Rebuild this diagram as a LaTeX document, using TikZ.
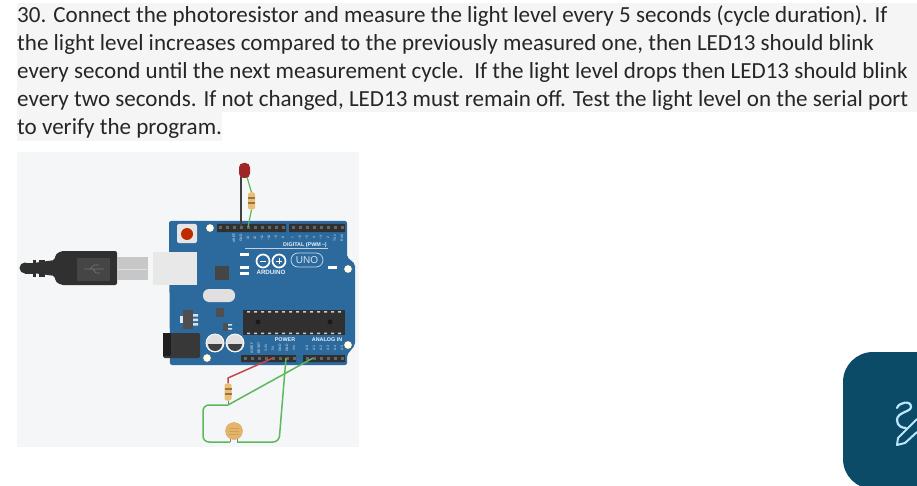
\documentclass[tikz,border=0pt]{standalone}
\usepackage{fontspec}
\setmainfont{Carlito}
\setsansfont{Liberation Sans}
\usepackage{tikz}
\definecolor{boardblue}{HTML}{2C6A9E}
\definecolor{paneltint}{HTML}{F5F6F8}
\definecolor{badgeblue}{HTML}{0B4B68}
\definecolor{iconblue}{HTML}{BDE8FC}
\definecolor{wiregreen}{HTML}{5DB85C}
\definecolor{wirered}{HTML}{C8454A}
\definecolor{bodytan}{HTML}{E9BE72}
\definecolor{bandbrown}{HTML}{9A7440}
\definecolor{plugblack}{HTML}{303030}
\tikzstyle{textline}=[anchor=base west, inner sep=0pt, text=black!85, font=\fontsize{23.05}{26}\selectfont]
\tikzstyle{hole}=[circle, fill=white!92!yellow, draw=boardblue!70!black, line width=0.4pt, minimum size=8.5pt, inner sep=0pt]
\tikzstyle{capacitor}=[circle, fill=black!12, draw=white, line width=0.8pt, minimum size=18pt, inner sep=0pt]
\tikzstyle{header}=[fill=plugblack, rounded corners=0.5pt]
\tikzstyle{resbody}=[fill=bodytan, rounded corners=2pt, minimum width=7pt, minimum height=17pt, inner sep=0pt]
\tikzstyle{wire} = [draw=wiregreen, line width=1.5pt, rounded corners=6pt]
\tikzstyle{silk} = [text=white!85!boardblue, inner sep=0pt, font=\sffamily\fontsize{3.4}{4}\selectfont]
\tikzstyle{silkb} = [text=white!90!boardblue, inner sep=0pt, font=\sffamily\bfseries\fontsize{5.4}{6}\selectfont]
\tikzstyle{smd} = [fill=plugblack!85]

\begin{document}
\begin{tikzpicture}[x=1pt, y=-1pt]
    \useasboundingbox (0,0) rectangle (917,486);
    \fill[white] (0,0) rectangle (917,486);

    % text with its tinted strip
    \fill[black!4] (17,3) rectangle (917,112);
    \fill[black!4] (17,112) rectangle (222,141);
    \foreach \pos/\name/\txt in {
        {(17,22.7)/lineone/30. Connect the photoresistor and measure the light level every 5 seconds (cycle duration). If},
        {(17,50.7)/linetwo/the light level increases compared to the previously measured one, then LED13 should blink},
        {(17,78.7)/linethree/every second until the next measurement cycle.\ \ If the light level drops then LED13 should blink},
        {(17,106.7)/linefour/every two seconds. If not changed, LED13 must remain off. Test the light level on the serial port},
        {(17,134.7)/linefive/to verify the program.}}
        \node[textline] (\name) at \pos {\txt};

    % panel and board
    \fill[paneltint] (17,152) rectangle (359,447);
    \fill[boardblue, rounded corners=2pt] (169,221) -- (347,221) -- (347,257) -- (355,264) -- (355,345) -- (347,355) -- (347,365) -- (170,365) -- cycle;

    % usb plug
    \fill[plugblack, rounded corners=2pt] (33,263) -- (55,260) -- (55,255) -- (61,251) -- (117,251) -- (117,285) -- (61,285) -- (55,281) -- (55,276) -- (33,273) -- cycle;
    \fill[plugblack] (33,260) rectangle (36,277);
    \fill[plugblack] (39,260) rectangle (45,277);
    \fill[plugblack] (25,268) circle (5.5pt);
    \fill[plugblack] (25,262.5) rectangle (35,273.5);
    \fill[black!73] (77,258) rectangle (110,281);
    \draw[black!55, line width=0.7pt] (84,269) -- (104,269) (90,269) -- (94,265) -- (99,265) (93,269) -- (96,273) -- (100,273);
    \fill[black!22] (117,257) rectangle (148,280);
    \draw[black!12, line width=0.6pt] (118,269) -- (147,269);
    \fill[black!9] (153,252) rectangle (197,285);

    % headers
    \fill[header] (217,224) rectangle (286,232);
    \fill[header] (289,224) rectangle (345,232);
    \fill[header] (241,355) rectangle (296,362);
    \fill[header] (303,355) rectangle (345,362);
    \foreach \x in {219,226,...,282,292,299,...,341}
        \fill[black!60] (\x,226) rectangle +(3,3);
    \foreach \x in {244,251,...,293,306,313,...,341}
        \fill[black!60] (\x,357) rectangle +(3,3);

    % parts on the board
    \fill[black!10, rounded corners=2pt] (177,224) rectangle (197,243);
    \node[circle, fill=red!55!orange!75!black, minimum size=12pt, inner sep=0pt] (reset) at (187,234) {};
    \fill[plugblack!90] (215,266) rectangle (229,280);
    \fill[black!12, rounded corners=6pt] (203,289) rectangle (235,302);
    \fill[plugblack] (243,310) rectangle (345,335);
    \foreach \x in {247,254,...,340}
        \fill[white!80!black] (\x,311) rectangle +(3,1.5) (\x,332.5) rectangle +(3,1.5);
    \fill[black!90] (258,322) circle (2.5pt);
    \fill[black!90] (330,322) circle (2.5pt);
    \fill[black!78, rounded corners=1.5pt] (163,333) rectangle (200,358);
    \fill[black!88] (163,333) rectangle (171,356);
    \fill[smd] (183,310) rectangle (193,329);
    \fill[white!85!boardblue] (180,316) rectangle (183,323);
    \fill[white!80!boardblue] (193,314) rectangle (198,316.5) (193,318.5) rectangle (198,321) (193,323) rectangle (198,325.5);
    \fill[smd] (216,308) rectangle (224,317);
    \fill[smd] (223,323) rectangle (228,331);
    \fill[white!80!boardblue] (228,324) rectangle (232,325.5) (228,328) rectangle (232,329.5);
    \foreach \pos/\name in {
                            {(215,343)/capone},
                            {(235,343)/captwo}}
        \node[capacitor] (\name) at \pos {};
    \fill[black!75] (208,344) arc[start angle=180, end angle=360, radius=7pt] -- cycle;
    \fill[black!75] (228,344) arc[start angle=180, end angle=360, radius=7pt] -- cycle;
    \foreach \pos/\name in {
                            {(210,228)/holea},
                            {(348,269)/holeb},
                            {(207,358)/holec},
                            {(348,345)/holed}}
        \node[hole] (\name) at \pos {};

    % logo and labels
    \draw[white, line width=1.7pt] (263,261) circle (6.5pt);
    \draw[white, line width=1.7pt] (279,261) circle (6.5pt);
    \draw[white, line width=0.9pt] (260,261) -- (266,261) (276,261) -- (282,261) (279,258) -- (279,264);
    \draw[white!75!boardblue, line width=0.7pt, rounded corners=7pt] (291,253) rectangle (323,267);
    \node[text=white!80!boardblue, inner sep=0pt, font=\sffamily\fontsize{10}{10}\selectfont] (uno) at (307,260) {UNO};
    \node[silkb, font=\sffamily\bfseries\fontsize{6.2}{7}\selectfont] (arduino) at (271,272.5) {ARDUINO};
    \node[silkb] (digital) at (305,245) {DIGITAL (PWM\,\textasciitilde)};
    \node[silkb] (power) at (285,340) {POWER};
    \node[silkb] (analog) at (327,340) {ANALOG IN};
    \draw[white!70!boardblue, line width=0.4pt] (245,248.5) -- (328,248.5);
    \fill[white] (240,253) rectangle (249,255.5);
    \fill[white] (240,266) rectangle (249,268.5);
    \fill[white] (240,272) rectangle (249,274.5);
    \fill[white] (328,266) rectangle (337,268.5);
    \foreach \pos/\txt in {
        {(234,238)/AREF}, {(241,238)/GND}, {(248,238)/13}, {(255,238)/12}, {(262,238)/\textasciitilde 11},
        {(269,238)/\textasciitilde 10}, {(276,238)/\textasciitilde 9}, {(283,238)/8}, {(293,238)/7},
        {(300,238)/\textasciitilde 6}, {(307,238)/\textasciitilde 5}, {(314,238)/4}, {(321,238)/\textasciitilde 3},
        {(328,238)/2}, {(335,238)/TX1}, {(342,238)/RX0},
        {(252,348)/IOREF}, {(259,348)/RESET}, {(266,348)/3.3V}, {(273,348)/5V}, {(280,348)/GND},
        {(287,348)/GND}, {(294,348)/Vin}, {(307,348)/A0}, {(314,348)/A1}, {(321,348)/A2},
        {(328,348)/A3}, {(335,348)/A4}, {(342,348)/A5}}
        \node[silk, rotate=90] at \pos {\txt};

    % led branch
    \coordinate (ledgnd) at (241,226);
    \coordinate (ledpin) at (248,227);
    \coordinate (ledcat) at (241,177);
    \coordinate (ledano) at (247,177);
    \node[resbody] (ledres) at (251.5,201) {};
    \draw[black!75, line width=1.3pt] (ledcat) -- (ledgnd);
    \draw[wiregreen, line width=1.2pt] (ledano) -- (ledres.north);
    \draw[wiregreen, line width=1.2pt] (ledres.south) -- (ledpin);
    \fill[bandbrown] (248,197) rectangle (255,199);
    \fill[bandbrown] (248,202) rectangle (255,204);
    \fill[red!55!black!85, rounded corners=4.5pt] (239,178) -- (239,163) -- (250,163) -- (250,178) -- cycle;

    % sensor branch
    \coordinate (pinfive) at (273,358);
    \coordinate (pingnd) at (286,358);
    \coordinate (pinao) at (313,358);
    \coordinate (sensejoin) at (228,405);
    \coordinate (redend) at (228,378);
    \coordinate (ldrleft) at (230,442);
    \coordinate (ldrright) at (237,442);
    \node[resbody] (senseres) at (228,392) {};
    \draw[wirered, line width=1.5pt] (pinfive) -- (redend) -- (senseres.north);
    \draw[black!50, line width=1pt] (senseres.south) -- (sensejoin);
    \draw[wire] (pinao) -- (sensejoin);
    \draw[wire] (sensejoin) -- (203,405) -- (203,442) -- (ldrleft);
    \draw[wire] (ldrright) -- (279,442) -- (pingnd);
    \fill[bandbrown] (224.5,388) rectangle (231.5,390);
    \fill[bandbrown] (224.5,393) rectangle (231.5,395);
    \draw[black!50, line width=0.9pt] (ldrleft) -- (230,436) (ldrright) -- (237,436);
    \node[circle, fill=bodytan!85!brown, draw=bodytan!60!brown, minimum size=17pt, inner sep=0pt] (ldr) at (234,431) {};
    \draw[bodytan!50!brown, line width=0.8pt] (229,428) -- (239,428) (229,431) -- (239,431) (229,434) -- (239,434);

    % badge
    \fill[badgeblue, rounded corners=30pt] (843,352) -- (960,352) -- (960,489) -- (843,489) -- cycle;
    \draw[iconblue, line width=2.2pt, line cap=round] (897,408) .. controls (899,402) and (911,400) .. (911,407) .. controls (911,412) and (897,412) .. (897,420) .. controls (897,426) and (902,428) .. (906,428);
    \draw[iconblue, line width=2pt, line join=round] (917,419) -- (898,438) -- (897,445) -- (905,443) -- (917,432);
\end{tikzpicture}
\end{document}
